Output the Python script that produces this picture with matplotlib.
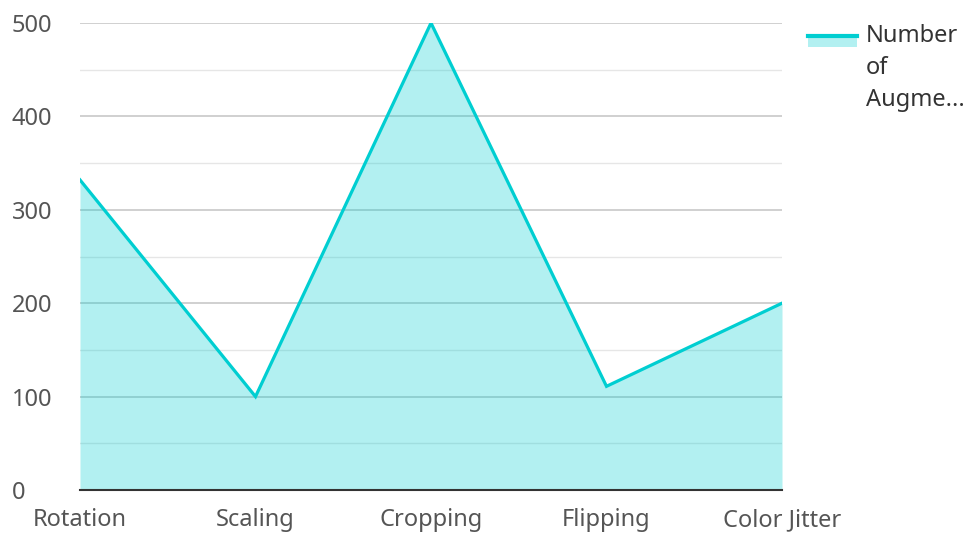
import matplotlib
matplotlib.use('Agg')
import matplotlib.pyplot as plt
import matplotlib.patches as mp
from matplotlib.lines import Line2D

plt.rcParams['font.family'] = ['Noto Sans', 'DejaVu Sans']

categories = ['Rotation', 'Scaling', 'Cropping', 'Flipping', 'Color Jitter']
augmented = [332, 100, 500, 111, 200]
series_label = ['Number', 'of', 'Augme...']

line_color = '#00CED1'
W, H = 972, 533

fig = plt.figure(figsize=(9.72, 5.33), dpi=100)
ax = fig.add_axes([80 / W, 1 - 490 / H, (782 - 80) / W, (490 - 23) / H])

x = list(range(len(categories)))

# grid first, fill is see-through so lines show under it
for v in range(0, 501, 50):
    if v % 100 == 0:
        ax.axhline(v, color='#c4c4c4', lw=1.1, zorder=0)
    else:
        ax.axhline(v, color='#e6e6e6', lw=1.0, zorder=0)

ax.fill_between(x, augmented, 0, color=line_color, alpha=0.3, lw=0, zorder=1)
ax.plot(x, augmented, color=line_color, lw=2.3, zorder=2, solid_joinstyle='miter')

ax.set_xlim(0, len(categories) - 1)
ax.set_ylim(0, 500)
ax.set_xticks(x)
ax.set_xticklabels(categories)
ax.set_yticks(range(0, 501, 100))

for s in ['top', 'right', 'left']:
    ax.spines[s].set_visible(False)
ax.spines['bottom'].set_color('#333333')
ax.spines['bottom'].set_linewidth(1.5)
ax.tick_params(axis='both', length=0, labelsize=17, colors='#555555')
ax.tick_params(axis='x', pad=13)
ax.tick_params(axis='y', pad=49)
for lbl in ax.get_yticklabels():
    lbl.set_horizontalalignment('left')

# legend: swatch at the first line, label wrapped over three lines
fig.patches.append(mp.Rectangle((808 / W, 1 - 47 / H), 49 / W, 11 / H, transform=fig.transFigure,
                                facecolor=line_color, alpha=0.3, lw=0))
fig.lines.append(Line2D([808 / W, 857 / W], [1 - 36 / H, 1 - 36 / H], transform=fig.transFigure,
                        color=line_color, lw=3))
for i, part in enumerate(series_label):
    fig.text(866 / W, 1 - (36 + 32 * i) / H, part, fontsize=17, color='#333333',
             ha='left', va='center')

fig.savefig('out.png', dpi=100)
